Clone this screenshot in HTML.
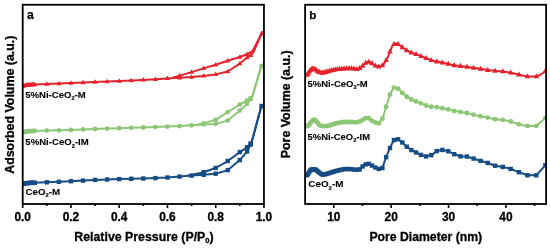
<!DOCTYPE html>
<html><head><meta charset="utf-8"><style>
html,body{margin:0;padding:0;background:#fff;}
body{width:550px;height:248px;overflow:hidden;}
svg{display:block;}
</style></head><body>
<svg width="550" height="248" viewBox="0 0 550 248">
<rect width="550" height="248" fill="#fff"/>
<defs><clipPath id="ca"><rect x="22.7" y="4.75" width="241.25" height="199.25"/></clipPath><clipPath id="cb"><rect x="305.1" y="4.75" width="241" height="199.25"/></clipPath></defs><g clip-path="url(#ca)">
<polyline points="23.90,86.00 25.10,85.40 27.00,85.00 30.00,84.70 34.00,84.50 46.80,84.00 58.90,83.60 70.90,83.10 83.00,82.60 95.00,82.10 107.10,81.60 119.10,81.10 131.20,80.50 143.20,79.90 155.30,79.20 167.30,78.40 179.40,77.70 191.50,77.00 203.50,75.90 215.60,74.40 227.70,71.50 239.80,63.60 247.10,57.60 251.00,55.20 253.40,52.30 262.60,31.40" fill="none" stroke="#e4222b" stroke-width="2.0" stroke-linejoin="round"/>
<polyline points="172.00,78.00 178.90,75.90 191.50,72.10 203.50,68.40 215.60,64.70 227.70,60.80 239.80,57.00 247.10,54.20 252.50,51.20 262.60,31.40" fill="none" stroke="#e4222b" stroke-width="2.0" stroke-linejoin="round"/>
<path d="M23.91,83.21L26.41,87.71L21.41,87.71Z" fill="#e4222b"/>
<path d="M25.11,82.61L27.61,87.11L22.61,87.11Z" fill="#e4222b"/>
<path d="M26.32,82.35L28.82,86.85L23.82,86.85Z" fill="#e4222b"/>
<path d="M27.52,82.16L30.02,86.66L25.02,86.66Z" fill="#e4222b"/>
<path d="M28.73,82.04L31.23,86.54L26.23,86.54Z" fill="#e4222b"/>
<path d="M29.94,81.92L32.44,86.42L27.44,86.42Z" fill="#e4222b"/>
<path d="M31.14,81.85L33.64,86.35L28.64,86.35Z" fill="#e4222b"/>
<path d="M32.35,81.79L34.85,86.29L29.85,86.29Z" fill="#e4222b"/>
<path d="M33.56,81.73L36.06,86.23L31.06,86.23Z" fill="#e4222b"/>
<path d="M34.76,81.68L37.26,86.18L32.26,86.18Z" fill="#e4222b"/>
<path d="M46.83,81.21L49.33,85.71L44.33,85.71Z" fill="#e4222b"/>
<path d="M58.89,80.81L61.39,85.31L56.39,85.31Z" fill="#e4222b"/>
<path d="M70.95,80.31L73.45,84.81L68.45,84.81Z" fill="#e4222b"/>
<path d="M83.01,79.81L85.51,84.31L80.51,84.31Z" fill="#e4222b"/>
<path d="M95.08,79.31L97.58,83.81L92.58,83.81Z" fill="#e4222b"/>
<path d="M107.14,78.81L109.64,83.31L104.64,83.31Z" fill="#e4222b"/>
<path d="M119.20,78.31L121.70,82.81L116.70,82.81Z" fill="#e4222b"/>
<path d="M131.26,77.71L133.76,82.21L128.76,82.21Z" fill="#e4222b"/>
<path d="M143.32,77.10L145.82,81.60L140.82,81.60Z" fill="#e4222b"/>
<path d="M155.39,76.40L157.89,80.90L152.89,80.90Z" fill="#e4222b"/>
<path d="M167.45,75.60L169.95,80.10L164.95,80.10Z" fill="#e4222b"/>
<path d="M179.51,74.90L182.01,79.40L177.01,79.40Z" fill="#e4222b"/>
<path d="M191.58,74.20L194.08,78.70L189.08,78.70Z" fill="#e4222b"/>
<path d="M203.64,73.09L206.14,77.59L201.14,77.59Z" fill="#e4222b"/>
<path d="M215.70,71.59L218.20,76.09L213.20,76.09Z" fill="#e4222b"/>
<path d="M227.76,68.67L230.26,73.17L225.26,73.17Z" fill="#e4222b"/>
<path d="M239.82,60.79L242.32,65.29L237.32,65.29Z" fill="#e4222b"/>
<path d="M247.06,54.84L249.56,59.34L244.56,59.34Z" fill="#e4222b"/>
<path d="M250.68,52.61L253.18,57.11L248.18,57.11Z" fill="#e4222b"/>
<path d="M261.54,31.02L264.04,35.52L259.04,35.52Z" fill="#e4222b"/>
<path d="M179.51,72.93L182.01,77.43L177.01,77.43Z" fill="#e4222b"/>
<path d="M191.57,69.29L194.07,73.79L189.07,73.79Z" fill="#e4222b"/>
<path d="M203.64,65.57L206.14,70.07L201.14,70.07Z" fill="#e4222b"/>
<path d="M215.70,61.88L218.20,66.38L213.20,66.38Z" fill="#e4222b"/>
<path d="M227.76,57.99L230.26,62.49L225.26,62.49Z" fill="#e4222b"/>
<path d="M239.82,54.20L242.32,58.70L237.32,58.70Z" fill="#e4222b"/>
<path d="M247.06,51.42L249.56,55.92L244.56,55.92Z" fill="#e4222b"/>
<polyline points="23.90,132.30 25.10,131.80 27.00,131.40 30.00,131.10 34.00,131.00 46.80,130.60 58.90,130.30 70.90,130.00 83.00,129.50 95.00,129.00 107.10,128.60 119.10,128.20 131.20,127.80 143.20,127.50 155.30,127.10 167.30,126.60 179.40,126.10 191.50,125.30 203.50,124.40 215.60,123.90 227.70,120.60 239.80,110.60 246.50,104.50 249.50,100.50 252.20,97.20 261.30,66.00" fill="none" stroke="#8cc776" stroke-width="2.0" stroke-linejoin="round"/>
<polyline points="198.00,124.60 203.50,123.40 215.60,119.80 226.90,112.60 239.00,105.00 246.10,101.20 249.10,99.20 252.20,97.00 261.30,66.00" fill="none" stroke="#8cc776" stroke-width="2.0" stroke-linejoin="round"/>
<circle cx="23.91" cy="132.30" r="2.40" fill="#8cc776"/>
<circle cx="25.11" cy="131.80" r="2.40" fill="#8cc776"/>
<circle cx="26.32" cy="131.54" r="2.40" fill="#8cc776"/>
<circle cx="27.52" cy="131.35" r="2.40" fill="#8cc776"/>
<circle cx="28.73" cy="131.23" r="2.40" fill="#8cc776"/>
<circle cx="29.94" cy="131.11" r="2.40" fill="#8cc776"/>
<circle cx="31.14" cy="131.07" r="2.40" fill="#8cc776"/>
<circle cx="32.35" cy="131.04" r="2.40" fill="#8cc776"/>
<circle cx="33.56" cy="131.01" r="2.40" fill="#8cc776"/>
<circle cx="34.76" cy="130.98" r="2.40" fill="#8cc776"/>
<circle cx="46.83" cy="130.60" r="2.40" fill="#8cc776"/>
<circle cx="58.89" cy="130.30" r="2.40" fill="#8cc776"/>
<circle cx="70.95" cy="130.00" r="2.40" fill="#8cc776"/>
<circle cx="83.01" cy="129.50" r="2.40" fill="#8cc776"/>
<circle cx="95.08" cy="129.00" r="2.40" fill="#8cc776"/>
<circle cx="107.14" cy="128.60" r="2.40" fill="#8cc776"/>
<circle cx="119.20" cy="128.20" r="2.40" fill="#8cc776"/>
<circle cx="131.26" cy="127.80" r="2.40" fill="#8cc776"/>
<circle cx="143.32" cy="127.50" r="2.40" fill="#8cc776"/>
<circle cx="155.39" cy="127.10" r="2.40" fill="#8cc776"/>
<circle cx="167.45" cy="126.59" r="2.40" fill="#8cc776"/>
<circle cx="179.51" cy="126.09" r="2.40" fill="#8cc776"/>
<circle cx="191.58" cy="125.29" r="2.40" fill="#8cc776"/>
<circle cx="203.64" cy="124.39" r="2.40" fill="#8cc776"/>
<circle cx="215.70" cy="123.87" r="2.40" fill="#8cc776"/>
<circle cx="227.76" cy="120.55" r="2.40" fill="#8cc776"/>
<circle cx="239.82" cy="110.58" r="2.40" fill="#8cc776"/>
<circle cx="247.06" cy="103.75" r="2.40" fill="#8cc776"/>
<circle cx="250.68" cy="99.06" r="2.40" fill="#8cc776"/>
<circle cx="261.54" cy="66.00" r="2.40" fill="#8cc776"/>
<circle cx="203.64" cy="123.36" r="2.40" fill="#8cc776"/>
<circle cx="215.70" cy="119.74" r="2.40" fill="#8cc776"/>
<circle cx="227.76" cy="112.06" r="2.40" fill="#8cc776"/>
<circle cx="239.82" cy="104.56" r="2.40" fill="#8cc776"/>
<circle cx="247.06" cy="100.56" r="2.40" fill="#8cc776"/>
<circle cx="250.68" cy="98.08" r="2.40" fill="#8cc776"/>
<polyline points="23.90,183.80 25.10,183.40 27.00,183.10 30.00,182.90 34.00,182.80 46.80,182.30 58.90,181.80 70.90,181.20 83.00,180.60 95.00,179.90 107.10,179.50 119.10,179.10 131.20,178.80 143.20,178.50 155.30,178.10 167.30,177.50 179.40,176.60 191.50,175.60 203.50,174.80 215.60,173.70 227.40,170.40 239.80,160.10 246.90,151.80 251.50,143.00 261.40,106.00" fill="none" stroke="#164c84" stroke-width="2.0" stroke-linejoin="round"/>
<polyline points="188.00,175.80 203.50,172.30 215.60,168.00 227.40,161.30 239.80,152.10 246.90,147.50 251.50,142.60 261.40,106.00" fill="none" stroke="#164c84" stroke-width="2.0" stroke-linejoin="round"/>
<rect x="21.71" y="181.60" width="4.40" height="4.40" fill="#164c84"/>
<rect x="22.91" y="181.20" width="4.40" height="4.40" fill="#164c84"/>
<rect x="24.12" y="181.01" width="4.40" height="4.40" fill="#164c84"/>
<rect x="25.32" y="180.87" width="4.40" height="4.40" fill="#164c84"/>
<rect x="26.53" y="180.78" width="4.40" height="4.40" fill="#164c84"/>
<rect x="27.74" y="180.70" width="4.40" height="4.40" fill="#164c84"/>
<rect x="28.94" y="180.67" width="4.40" height="4.40" fill="#164c84"/>
<rect x="30.15" y="180.64" width="4.40" height="4.40" fill="#164c84"/>
<rect x="31.36" y="180.61" width="4.40" height="4.40" fill="#164c84"/>
<rect x="32.56" y="180.57" width="4.40" height="4.40" fill="#164c84"/>
<rect x="44.62" y="180.10" width="4.40" height="4.40" fill="#164c84"/>
<rect x="56.69" y="179.60" width="4.40" height="4.40" fill="#164c84"/>
<rect x="68.75" y="179.00" width="4.40" height="4.40" fill="#164c84"/>
<rect x="80.81" y="178.40" width="4.40" height="4.40" fill="#164c84"/>
<rect x="92.88" y="177.70" width="4.40" height="4.40" fill="#164c84"/>
<rect x="104.94" y="177.30" width="4.40" height="4.40" fill="#164c84"/>
<rect x="117.00" y="176.90" width="4.40" height="4.40" fill="#164c84"/>
<rect x="129.06" y="176.60" width="4.40" height="4.40" fill="#164c84"/>
<rect x="141.12" y="176.30" width="4.40" height="4.40" fill="#164c84"/>
<rect x="153.19" y="175.90" width="4.40" height="4.40" fill="#164c84"/>
<rect x="165.25" y="175.29" width="4.40" height="4.40" fill="#164c84"/>
<rect x="177.31" y="174.39" width="4.40" height="4.40" fill="#164c84"/>
<rect x="189.38" y="173.40" width="4.40" height="4.40" fill="#164c84"/>
<rect x="201.44" y="172.59" width="4.40" height="4.40" fill="#164c84"/>
<rect x="213.50" y="171.47" width="4.40" height="4.40" fill="#164c84"/>
<rect x="225.56" y="167.90" width="4.40" height="4.40" fill="#164c84"/>
<rect x="237.62" y="157.87" width="4.40" height="4.40" fill="#164c84"/>
<rect x="244.86" y="149.29" width="4.40" height="4.40" fill="#164c84"/>
<rect x="248.48" y="142.37" width="4.40" height="4.40" fill="#164c84"/>
<rect x="259.34" y="103.80" width="4.40" height="4.40" fill="#164c84"/>
<rect x="201.44" y="170.05" width="4.40" height="4.40" fill="#164c84"/>
<rect x="213.50" y="165.74" width="4.40" height="4.40" fill="#164c84"/>
<rect x="225.56" y="158.83" width="4.40" height="4.40" fill="#164c84"/>
<rect x="237.62" y="149.88" width="4.40" height="4.40" fill="#164c84"/>
<rect x="244.86" y="145.13" width="4.40" height="4.40" fill="#164c84"/>
<rect x="248.48" y="141.27" width="4.40" height="4.40" fill="#164c84"/>
</g><g clip-path="url(#cb)">
<polyline points="306.20,75.60 307.50,74.60 309.50,71.00 312.20,68.50 315.00,69.00 318.00,71.50 321.90,72.90 326.00,72.00 331.20,70.30 337.00,69.20 344.00,68.60 350.00,68.20 355.00,68.70 358.00,69.30 362.00,66.50 366.00,62.50 368.20,61.60 371.00,62.50 375.00,65.50 379.20,66.60 383.50,64.80 387.60,57.60 390.80,49.50 392.80,45.20 394.50,43.60 398.10,44.00 402.10,47.10 406.20,50.10 411.20,52.50 416.20,54.10 421.20,56.20 426.30,58.20 431.30,60.20 437.30,61.60 442.00,62.50 454.10,65.20 466.20,66.70 478.30,68.60 490.00,70.30 495.00,70.80 503.00,71.40 510.10,72.40 519.20,74.70 527.20,76.40 536.30,76.40 540.00,75.00 543.00,73.00 546.00,70.60" fill="none" stroke="#e4222b" stroke-width="2.0" stroke-linejoin="round"/>
<path d="M307.04,71.83L309.84,76.87L304.24,76.87Z" fill="#e4222b"/>
<path d="M308.11,70.37L310.91,75.41L305.31,75.41Z" fill="#e4222b"/>
<path d="M309.23,68.37L312.03,73.41L306.43,73.41Z" fill="#e4222b"/>
<path d="M310.38,67.06L313.18,72.10L307.58,72.10Z" fill="#e4222b"/>
<path d="M311.57,65.96L314.37,71.00L308.77,71.00Z" fill="#e4222b"/>
<path d="M312.80,65.48L315.60,70.52L310.00,70.52Z" fill="#e4222b"/>
<path d="M314.08,65.71L316.88,70.75L311.28,70.75Z" fill="#e4222b"/>
<path d="M315.40,66.21L318.20,71.25L312.60,71.25Z" fill="#e4222b"/>
<path d="M316.77,67.35L319.57,72.39L313.97,72.39Z" fill="#e4222b"/>
<path d="M318.19,68.44L320.99,73.48L315.39,73.48Z" fill="#e4222b"/>
<path d="M319.65,68.97L322.45,74.01L316.85,74.01Z" fill="#e4222b"/>
<path d="M321.17,69.51L323.97,74.55L318.37,74.55Z" fill="#e4222b"/>
<path d="M322.74,69.59L325.54,74.63L319.94,74.63Z" fill="#e4222b"/>
<path d="M324.37,69.23L327.17,74.27L321.57,74.27Z" fill="#e4222b"/>
<path d="M326.05,68.86L328.85,73.90L323.25,73.90Z" fill="#e4222b"/>
<path d="M327.79,68.29L330.59,73.33L324.99,73.33Z" fill="#e4222b"/>
<path d="M329.59,67.70L332.39,72.74L326.79,72.74Z" fill="#e4222b"/>
<path d="M331.46,67.13L334.26,72.17L328.66,72.17Z" fill="#e4222b"/>
<path d="M333.39,66.76L336.19,71.80L330.59,71.80Z" fill="#e4222b"/>
<path d="M335.39,66.38L338.19,71.42L332.59,71.42Z" fill="#e4222b"/>
<path d="M337.46,66.04L340.26,71.08L334.66,71.08Z" fill="#e4222b"/>
<path d="M339.60,65.85L342.40,70.89L336.80,70.89Z" fill="#e4222b"/>
<path d="M341.82,65.66L344.62,70.70L339.02,70.70Z" fill="#e4222b"/>
<path d="M344.11,65.47L346.91,70.51L341.31,70.51Z" fill="#e4222b"/>
<path d="M346.49,65.31L349.29,70.35L343.69,70.35Z" fill="#e4222b"/>
<path d="M348.95,65.15L351.75,70.19L346.15,70.19Z" fill="#e4222b"/>
<path d="M351.49,65.22L354.29,70.26L348.69,70.26Z" fill="#e4222b"/>
<path d="M354.13,65.49L356.93,70.53L351.33,70.53Z" fill="#e4222b"/>
<path d="M356.86,65.95L359.66,70.99L354.06,70.99Z" fill="#e4222b"/>
<path d="M359.68,65.00L362.48,70.04L356.88,70.04Z" fill="#e4222b"/>
<path d="M362.60,62.77L365.40,67.81L359.80,67.81Z" fill="#e4222b"/>
<path d="M365.63,59.75L368.43,64.79L362.83,64.79Z" fill="#e4222b"/>
<path d="M368.76,58.65L371.56,63.69L365.96,63.69Z" fill="#e4222b"/>
<path d="M372.00,60.12L374.80,65.16L369.20,65.16Z" fill="#e4222b"/>
<path d="M375.35,62.47L378.15,67.51L372.55,67.51Z" fill="#e4222b"/>
<path d="M378.82,63.38L381.62,68.42L376.02,68.42Z" fill="#e4222b"/>
<path d="M382.42,62.13L385.22,67.17L379.62,67.17Z" fill="#e4222b"/>
<path d="M386.14,57.05L388.94,62.09L383.34,62.09Z" fill="#e4222b"/>
<path d="M389.99,48.44L392.79,53.48L387.19,53.48Z" fill="#e4222b"/>
<path d="M393.97,40.97L396.77,46.01L391.17,46.01Z" fill="#e4222b"/>
<path d="M398.10,40.87L400.90,45.91L395.30,45.91Z" fill="#e4222b"/>
<path d="M402.37,44.17L405.17,49.21L399.57,49.21Z" fill="#e4222b"/>
<path d="M406.78,47.26L409.58,52.30L403.98,52.30Z" fill="#e4222b"/>
<path d="M411.36,49.43L414.16,54.47L408.56,54.47Z" fill="#e4222b"/>
<path d="M416.09,50.94L418.89,55.98L413.29,55.98Z" fill="#e4222b"/>
<path d="M421.00,52.99L423.80,58.03L418.20,58.03Z" fill="#e4222b"/>
<path d="M426.07,54.98L428.87,60.02L423.27,60.02Z" fill="#e4222b"/>
<path d="M431.32,57.08L434.12,62.12L428.52,62.12Z" fill="#e4222b"/>
<path d="M436.76,58.35L439.56,63.39L433.96,63.39Z" fill="#e4222b"/>
<path d="M442.38,59.46L445.18,64.50L439.58,64.50Z" fill="#e4222b"/>
<path d="M448.21,60.76L451.01,65.80L445.41,65.80Z" fill="#e4222b"/>
<path d="M454.23,62.09L457.03,67.13L451.43,67.13Z" fill="#e4222b"/>
<path d="M460.47,62.87L463.27,67.91L457.67,67.91Z" fill="#e4222b"/>
<path d="M466.93,63.69L469.73,68.73L464.13,68.73Z" fill="#e4222b"/>
<path d="M473.62,64.74L476.42,69.78L470.82,69.78Z" fill="#e4222b"/>
<path d="M480.54,65.80L483.34,70.84L477.74,70.84Z" fill="#e4222b"/>
<path d="M487.70,66.84L490.50,71.88L484.90,71.88Z" fill="#e4222b"/>
<path d="M495.11,67.68L497.91,72.72L492.31,72.72Z" fill="#e4222b"/>
<path d="M502.79,68.26L505.59,73.30L499.99,73.30Z" fill="#e4222b"/>
<path d="M510.73,69.43L513.53,74.47L507.93,74.47Z" fill="#e4222b"/>
<path d="M518.95,71.51L521.75,76.55L516.15,76.55Z" fill="#e4222b"/>
<path d="M527.46,73.28L530.26,78.32L524.66,78.32Z" fill="#e4222b"/>
<path d="M536.27,73.28L539.07,78.32L533.47,78.32Z" fill="#e4222b"/>
<path d="M545.39,67.96L548.19,73.00L542.59,73.00Z" fill="#e4222b"/>
<polyline points="306.20,126.30 308.50,125.70 311.00,122.50 313.00,120.00 314.20,119.60 315.50,120.20 317.50,123.00 319.50,125.30 322.00,126.10 327.00,126.10 331.20,125.00 337.00,123.00 344.00,122.00 350.00,122.00 358.00,122.40 363.00,119.80 366.40,117.80 369.00,118.30 372.20,120.90 378.20,124.00 382.50,118.60 386.30,106.20 390.40,93.20 394.10,87.40 398.50,88.80 402.50,93.10 407.20,97.10 411.80,99.70 416.80,101.70 421.90,103.70 426.90,105.80 431.90,106.80 437.10,107.20 442.50,108.30 448.50,109.40 454.50,111.00 460.60,112.00 467.20,113.10 473.30,114.60 480.30,116.20 487.30,117.50 495.00,119.20 503.10,119.90 510.70,121.50 519.20,124.40 527.20,125.90 536.30,125.90 545.40,117.90 546.50,117.00" fill="none" stroke="#8cc776" stroke-width="2.0" stroke-linejoin="round"/>
<circle cx="307.04" cy="126.08" r="2.45" fill="#8cc776"/>
<circle cx="308.11" cy="125.80" r="2.45" fill="#8cc776"/>
<circle cx="309.23" cy="124.77" r="2.45" fill="#8cc776"/>
<circle cx="310.38" cy="123.30" r="2.45" fill="#8cc776"/>
<circle cx="311.57" cy="121.79" r="2.45" fill="#8cc776"/>
<circle cx="312.80" cy="120.25" r="2.45" fill="#8cc776"/>
<circle cx="314.08" cy="119.64" r="2.45" fill="#8cc776"/>
<circle cx="315.40" cy="120.15" r="2.45" fill="#8cc776"/>
<circle cx="316.77" cy="121.98" r="2.45" fill="#8cc776"/>
<circle cx="318.19" cy="123.79" r="2.45" fill="#8cc776"/>
<circle cx="319.65" cy="125.35" r="2.45" fill="#8cc776"/>
<circle cx="321.17" cy="125.83" r="2.45" fill="#8cc776"/>
<circle cx="322.74" cy="126.10" r="2.45" fill="#8cc776"/>
<circle cx="324.37" cy="126.10" r="2.45" fill="#8cc776"/>
<circle cx="326.05" cy="126.10" r="2.45" fill="#8cc776"/>
<circle cx="327.79" cy="125.89" r="2.45" fill="#8cc776"/>
<circle cx="329.59" cy="125.42" r="2.45" fill="#8cc776"/>
<circle cx="331.46" cy="124.91" r="2.45" fill="#8cc776"/>
<circle cx="333.39" cy="124.24" r="2.45" fill="#8cc776"/>
<circle cx="335.39" cy="123.55" r="2.45" fill="#8cc776"/>
<circle cx="337.46" cy="122.93" r="2.45" fill="#8cc776"/>
<circle cx="339.60" cy="122.63" r="2.45" fill="#8cc776"/>
<circle cx="341.82" cy="122.31" r="2.45" fill="#8cc776"/>
<circle cx="344.11" cy="122.00" r="2.45" fill="#8cc776"/>
<circle cx="346.49" cy="122.00" r="2.45" fill="#8cc776"/>
<circle cx="348.95" cy="122.00" r="2.45" fill="#8cc776"/>
<circle cx="351.49" cy="122.07" r="2.45" fill="#8cc776"/>
<circle cx="354.13" cy="122.21" r="2.45" fill="#8cc776"/>
<circle cx="356.86" cy="122.34" r="2.45" fill="#8cc776"/>
<circle cx="359.68" cy="121.53" r="2.45" fill="#8cc776"/>
<circle cx="362.60" cy="120.01" r="2.45" fill="#8cc776"/>
<circle cx="365.63" cy="118.26" r="2.45" fill="#8cc776"/>
<circle cx="368.76" cy="118.25" r="2.45" fill="#8cc776"/>
<circle cx="372.00" cy="120.73" r="2.45" fill="#8cc776"/>
<circle cx="375.35" cy="122.53" r="2.45" fill="#8cc776"/>
<circle cx="378.82" cy="123.22" r="2.45" fill="#8cc776"/>
<circle cx="382.42" cy="118.71" r="2.45" fill="#8cc776"/>
<circle cx="386.14" cy="106.74" r="2.45" fill="#8cc776"/>
<circle cx="389.99" cy="94.52" r="2.45" fill="#8cc776"/>
<circle cx="393.97" cy="87.60" r="2.45" fill="#8cc776"/>
<circle cx="398.10" cy="88.67" r="2.45" fill="#8cc776"/>
<circle cx="402.37" cy="92.96" r="2.45" fill="#8cc776"/>
<circle cx="406.78" cy="96.75" r="2.45" fill="#8cc776"/>
<circle cx="411.36" cy="99.45" r="2.45" fill="#8cc776"/>
<circle cx="416.09" cy="101.42" r="2.45" fill="#8cc776"/>
<circle cx="421.00" cy="103.35" r="2.45" fill="#8cc776"/>
<circle cx="426.07" cy="105.45" r="2.45" fill="#8cc776"/>
<circle cx="431.32" cy="106.68" r="2.45" fill="#8cc776"/>
<circle cx="436.76" cy="107.17" r="2.45" fill="#8cc776"/>
<circle cx="442.38" cy="108.28" r="2.45" fill="#8cc776"/>
<circle cx="448.21" cy="109.35" r="2.45" fill="#8cc776"/>
<circle cx="454.23" cy="110.93" r="2.45" fill="#8cc776"/>
<circle cx="460.47" cy="111.98" r="2.45" fill="#8cc776"/>
<circle cx="466.93" cy="113.06" r="2.45" fill="#8cc776"/>
<circle cx="473.62" cy="114.67" r="2.45" fill="#8cc776"/>
<circle cx="480.54" cy="116.24" r="2.45" fill="#8cc776"/>
<circle cx="487.70" cy="117.59" r="2.45" fill="#8cc776"/>
<circle cx="495.11" cy="119.21" r="2.45" fill="#8cc776"/>
<circle cx="502.79" cy="119.87" r="2.45" fill="#8cc776"/>
<circle cx="510.73" cy="121.51" r="2.45" fill="#8cc776"/>
<circle cx="518.95" cy="124.32" r="2.45" fill="#8cc776"/>
<circle cx="527.46" cy="125.90" r="2.45" fill="#8cc776"/>
<circle cx="536.27" cy="125.90" r="2.45" fill="#8cc776"/>
<circle cx="545.39" cy="117.91" r="2.45" fill="#8cc776"/>
<polyline points="306.20,175.60 307.50,175.00 309.50,171.50 311.00,169.60 313.20,169.20 315.50,169.60 318.00,171.50 320.50,173.60 322.40,174.70 326.00,174.10 331.20,172.50 337.00,170.70 344.00,169.10 350.00,169.00 356.00,169.90 360.00,169.30 363.00,166.00 367.40,163.30 370.50,164.50 374.00,167.00 379.50,169.20 382.50,168.00 385.20,159.50 388.40,151.50 391.60,144.50 394.00,140.00 398.10,139.30 402.50,142.60 406.80,146.70 411.80,150.40 416.20,152.50 421.20,155.00 426.30,156.50 431.70,155.00 437.00,150.90 442.50,149.90 448.50,151.30 454.50,154.30 460.60,156.40 467.20,156.60 473.30,158.50 480.30,160.80 487.30,162.80 495.00,165.70 503.10,167.00 510.70,168.90 519.20,172.30 527.20,175.30 536.30,175.30 545.40,165.20 546.50,164.00" fill="none" stroke="#164c84" stroke-width="2.0" stroke-linejoin="round"/>
<rect x="304.84" y="173.01" width="4.40" height="4.40" fill="#164c84"/>
<rect x="305.91" y="171.73" width="4.40" height="4.40" fill="#164c84"/>
<rect x="307.03" y="169.78" width="4.40" height="4.40" fill="#164c84"/>
<rect x="308.18" y="168.19" width="4.40" height="4.40" fill="#164c84"/>
<rect x="309.37" y="167.30" width="4.40" height="4.40" fill="#164c84"/>
<rect x="310.60" y="167.07" width="4.40" height="4.40" fill="#164c84"/>
<rect x="311.88" y="167.15" width="4.40" height="4.40" fill="#164c84"/>
<rect x="313.20" y="167.38" width="4.40" height="4.40" fill="#164c84"/>
<rect x="314.57" y="168.37" width="4.40" height="4.40" fill="#164c84"/>
<rect x="315.99" y="169.46" width="4.40" height="4.40" fill="#164c84"/>
<rect x="317.45" y="170.69" width="4.40" height="4.40" fill="#164c84"/>
<rect x="318.97" y="171.79" width="4.40" height="4.40" fill="#164c84"/>
<rect x="320.54" y="172.44" width="4.40" height="4.40" fill="#164c84"/>
<rect x="322.17" y="172.17" width="4.40" height="4.40" fill="#164c84"/>
<rect x="323.85" y="171.88" width="4.40" height="4.40" fill="#164c84"/>
<rect x="325.59" y="171.35" width="4.40" height="4.40" fill="#164c84"/>
<rect x="327.39" y="170.79" width="4.40" height="4.40" fill="#164c84"/>
<rect x="329.26" y="170.22" width="4.40" height="4.40" fill="#164c84"/>
<rect x="331.19" y="169.62" width="4.40" height="4.40" fill="#164c84"/>
<rect x="333.19" y="169.00" width="4.40" height="4.40" fill="#164c84"/>
<rect x="335.26" y="168.39" width="4.40" height="4.40" fill="#164c84"/>
<rect x="337.40" y="167.91" width="4.40" height="4.40" fill="#164c84"/>
<rect x="339.62" y="167.40" width="4.40" height="4.40" fill="#164c84"/>
<rect x="341.91" y="166.90" width="4.40" height="4.40" fill="#164c84"/>
<rect x="344.29" y="166.86" width="4.40" height="4.40" fill="#164c84"/>
<rect x="346.75" y="166.82" width="4.40" height="4.40" fill="#164c84"/>
<rect x="349.29" y="167.02" width="4.40" height="4.40" fill="#164c84"/>
<rect x="351.93" y="167.42" width="4.40" height="4.40" fill="#164c84"/>
<rect x="354.66" y="167.57" width="4.40" height="4.40" fill="#164c84"/>
<rect x="357.48" y="167.15" width="4.40" height="4.40" fill="#164c84"/>
<rect x="360.40" y="164.24" width="4.40" height="4.40" fill="#164c84"/>
<rect x="363.43" y="162.19" width="4.40" height="4.40" fill="#164c84"/>
<rect x="366.56" y="161.62" width="4.40" height="4.40" fill="#164c84"/>
<rect x="369.80" y="163.37" width="4.40" height="4.40" fill="#164c84"/>
<rect x="373.15" y="165.34" width="4.40" height="4.40" fill="#164c84"/>
<rect x="376.62" y="166.73" width="4.40" height="4.40" fill="#164c84"/>
<rect x="380.22" y="165.83" width="4.40" height="4.40" fill="#164c84"/>
<rect x="383.94" y="154.96" width="4.40" height="4.40" fill="#164c84"/>
<rect x="387.79" y="145.83" width="4.40" height="4.40" fill="#164c84"/>
<rect x="391.77" y="137.86" width="4.40" height="4.40" fill="#164c84"/>
<rect x="395.90" y="137.10" width="4.40" height="4.40" fill="#164c84"/>
<rect x="400.17" y="140.30" width="4.40" height="4.40" fill="#164c84"/>
<rect x="404.58" y="144.49" width="4.40" height="4.40" fill="#164c84"/>
<rect x="409.16" y="147.87" width="4.40" height="4.40" fill="#164c84"/>
<rect x="413.89" y="150.25" width="4.40" height="4.40" fill="#164c84"/>
<rect x="418.80" y="152.70" width="4.40" height="4.40" fill="#164c84"/>
<rect x="423.87" y="154.23" width="4.40" height="4.40" fill="#164c84"/>
<rect x="429.12" y="152.91" width="4.40" height="4.40" fill="#164c84"/>
<rect x="434.56" y="148.89" width="4.40" height="4.40" fill="#164c84"/>
<rect x="440.18" y="147.72" width="4.40" height="4.40" fill="#164c84"/>
<rect x="446.01" y="149.03" width="4.40" height="4.40" fill="#164c84"/>
<rect x="452.03" y="151.97" width="4.40" height="4.40" fill="#164c84"/>
<rect x="458.27" y="154.16" width="4.40" height="4.40" fill="#164c84"/>
<rect x="464.73" y="154.39" width="4.40" height="4.40" fill="#164c84"/>
<rect x="471.42" y="156.40" width="4.40" height="4.40" fill="#164c84"/>
<rect x="478.34" y="158.67" width="4.40" height="4.40" fill="#164c84"/>
<rect x="485.50" y="160.75" width="4.40" height="4.40" fill="#164c84"/>
<rect x="492.91" y="163.52" width="4.40" height="4.40" fill="#164c84"/>
<rect x="500.59" y="164.75" width="4.40" height="4.40" fill="#164c84"/>
<rect x="508.53" y="166.71" width="4.40" height="4.40" fill="#164c84"/>
<rect x="516.75" y="170.00" width="4.40" height="4.40" fill="#164c84"/>
<rect x="525.26" y="173.10" width="4.40" height="4.40" fill="#164c84"/>
<rect x="534.07" y="173.10" width="4.40" height="4.40" fill="#164c84"/>
<rect x="543.19" y="163.01" width="4.40" height="4.40" fill="#164c84"/>
</g>
<rect x="22.7" y="4.75" width="241.25" height="199.25" fill="none" stroke="#000" stroke-width="1.8"/>
<rect x="305.1" y="4.75" width="241.00" height="199.25" fill="none" stroke="#000" stroke-width="1.8"/>
<line x1="22.70" y1="204.0" x2="22.70" y2="208.00" stroke="#000" stroke-width="1.6"/>
<line x1="46.83" y1="204.0" x2="46.83" y2="206.00" stroke="#000" stroke-width="1.6"/>
<line x1="70.95" y1="204.0" x2="70.95" y2="208.00" stroke="#000" stroke-width="1.6"/>
<line x1="95.08" y1="204.0" x2="95.08" y2="206.00" stroke="#000" stroke-width="1.6"/>
<line x1="119.20" y1="204.0" x2="119.20" y2="208.00" stroke="#000" stroke-width="1.6"/>
<line x1="143.32" y1="204.0" x2="143.32" y2="206.00" stroke="#000" stroke-width="1.6"/>
<line x1="167.45" y1="204.0" x2="167.45" y2="208.00" stroke="#000" stroke-width="1.6"/>
<line x1="191.57" y1="204.0" x2="191.57" y2="206.00" stroke="#000" stroke-width="1.6"/>
<line x1="215.70" y1="204.0" x2="215.70" y2="208.00" stroke="#000" stroke-width="1.6"/>
<line x1="239.82" y1="204.0" x2="239.82" y2="206.00" stroke="#000" stroke-width="1.6"/>
<line x1="263.95" y1="204.0" x2="263.95" y2="208.00" stroke="#000" stroke-width="1.6"/>
<line x1="333.79" y1="204.0" x2="333.79" y2="208.00" stroke="#000" stroke-width="1.6"/>
<line x1="362.48" y1="204.0" x2="362.48" y2="206.00" stroke="#000" stroke-width="1.6"/>
<line x1="391.17" y1="204.0" x2="391.17" y2="208.00" stroke="#000" stroke-width="1.6"/>
<line x1="419.86" y1="204.0" x2="419.86" y2="206.00" stroke="#000" stroke-width="1.6"/>
<line x1="448.55" y1="204.0" x2="448.55" y2="208.00" stroke="#000" stroke-width="1.6"/>
<line x1="477.24" y1="204.0" x2="477.24" y2="206.00" stroke="#000" stroke-width="1.6"/>
<line x1="505.93" y1="204.0" x2="505.93" y2="208.00" stroke="#000" stroke-width="1.6"/>
<line x1="534.62" y1="204.0" x2="534.62" y2="206.00" stroke="#000" stroke-width="1.6"/>
<text x="22.70" y="220.6" font-size="11.9" text-anchor="middle" stroke-width="0.3" font-family="Liberation Sans, Arial, sans-serif" font-weight="bold" stroke="#000">0.0</text>
<text x="70.95" y="220.6" font-size="11.9" text-anchor="middle" stroke-width="0.3" font-family="Liberation Sans, Arial, sans-serif" font-weight="bold" stroke="#000">0.2</text>
<text x="119.20" y="220.6" font-size="11.9" text-anchor="middle" stroke-width="0.3" font-family="Liberation Sans, Arial, sans-serif" font-weight="bold" stroke="#000">0.4</text>
<text x="167.45" y="220.6" font-size="11.9" text-anchor="middle" stroke-width="0.3" font-family="Liberation Sans, Arial, sans-serif" font-weight="bold" stroke="#000">0.6</text>
<text x="215.70" y="220.6" font-size="11.9" text-anchor="middle" stroke-width="0.3" font-family="Liberation Sans, Arial, sans-serif" font-weight="bold" stroke="#000">0.8</text>
<text x="263.95" y="220.6" font-size="11.9" text-anchor="middle" stroke-width="0.3" font-family="Liberation Sans, Arial, sans-serif" font-weight="bold" stroke="#000">1.0</text>
<text x="333.79" y="220.6" font-size="11.9" text-anchor="middle" stroke-width="0.3" font-family="Liberation Sans, Arial, sans-serif" font-weight="bold" stroke="#000">10</text>
<text x="391.17" y="220.6" font-size="11.9" text-anchor="middle" stroke-width="0.3" font-family="Liberation Sans, Arial, sans-serif" font-weight="bold" stroke="#000">20</text>
<text x="448.55" y="220.6" font-size="11.9" text-anchor="middle" stroke-width="0.3" font-family="Liberation Sans, Arial, sans-serif" font-weight="bold" stroke="#000">30</text>
<text x="505.93" y="220.6" font-size="11.9" text-anchor="middle" stroke-width="0.3" font-family="Liberation Sans, Arial, sans-serif" font-weight="bold" stroke="#000">40</text>
<text x="74.3" y="240.6" font-size="12.5" stroke-width="0.3" textLength="139.3" lengthAdjust="spacingAndGlyphs" font-family="Liberation Sans, Arial, sans-serif" font-weight="bold" stroke="#000">Relative Pressure (P/P<tspan font-size="7.6" dy="2.6">0</tspan><tspan dy="-2.6">)</tspan></text>
<text x="369.4" y="240.6" font-size="12.5" stroke-width="0.3" textLength="112.8" lengthAdjust="spacingAndGlyphs" font-family="Liberation Sans, Arial, sans-serif" font-weight="bold" stroke="#000">Pore Diameter (nm)</text>
<g transform="translate(13.6,0) rotate(-90)"><text x="-173.8" y="0" font-size="12.0" stroke-width="0.3" textLength="138.2" lengthAdjust="spacingAndGlyphs" font-family="Liberation Sans, Arial, sans-serif" font-weight="bold" stroke="#000">Adsorbed Volume (a.u.)</text></g>
<g transform="translate(290.4,0) rotate(-90)"><text x="-158.2" y="0" font-size="12.0" stroke-width="0.3" textLength="107.7" lengthAdjust="spacingAndGlyphs" font-family="Liberation Sans, Arial, sans-serif" font-weight="bold" stroke="#000">Pore Volume (a.u.)</text></g>
<text x="27.0" y="18.7" font-size="12.2" stroke-width="0.25" font-family="Liberation Sans, Arial, sans-serif" font-weight="bold" stroke="#000">a</text>
<text x="309.2" y="18.6" font-size="11.6" stroke-width="0.25" font-family="Liberation Sans, Arial, sans-serif" font-weight="bold" stroke="#000">b</text>
<text x="25.3" y="97.6" font-size="9.6" stroke-width="0.08" textLength="60.4" lengthAdjust="spacingAndGlyphs" font-family="Liberation Sans, Arial, sans-serif" font-weight="bold" stroke="#000">5%Ni-CeO<tspan font-size="5.8" dy="2.6">2</tspan><tspan dy="-2.6">-M</tspan></text>
<text x="25.3" y="145.3" font-size="9.6" stroke-width="0.08" textLength="63.5" lengthAdjust="spacingAndGlyphs" font-family="Liberation Sans, Arial, sans-serif" font-weight="bold" stroke="#000">5%Ni-CeO<tspan font-size="5.8" dy="2.6">2</tspan><tspan dy="-2.6">-IM</tspan></text>
<text x="25.5" y="194.6" font-size="9.6" stroke-width="0.08" textLength="34.6" lengthAdjust="spacingAndGlyphs" font-family="Liberation Sans, Arial, sans-serif" font-weight="bold" stroke="#000">CeO<tspan font-size="5.8" dy="2.6">2</tspan><tspan dy="-2.6">-M</tspan></text>
<text x="307.5" y="86.7" font-size="9.6" stroke-width="0.08" textLength="60.2" lengthAdjust="spacingAndGlyphs" font-family="Liberation Sans, Arial, sans-serif" font-weight="bold" stroke="#000">5%Ni-CeO<tspan font-size="5.8" dy="2.6">2</tspan><tspan dy="-2.6">-M</tspan></text>
<text x="307.6" y="139.8" font-size="9.6" stroke-width="0.08" textLength="62.4" lengthAdjust="spacingAndGlyphs" font-family="Liberation Sans, Arial, sans-serif" font-weight="bold" stroke="#000">5%Ni-CeO<tspan font-size="5.8" dy="2.6">2</tspan><tspan dy="-2.6">-IM</tspan></text>
<text x="308.3" y="187.2" font-size="9.6" stroke-width="0.08" textLength="35.1" lengthAdjust="spacingAndGlyphs" font-family="Liberation Sans, Arial, sans-serif" font-weight="bold" stroke="#000">CeO<tspan font-size="5.8" dy="2.6">2</tspan><tspan dy="-2.6">-M</tspan></text>
</svg>
</body></html>
